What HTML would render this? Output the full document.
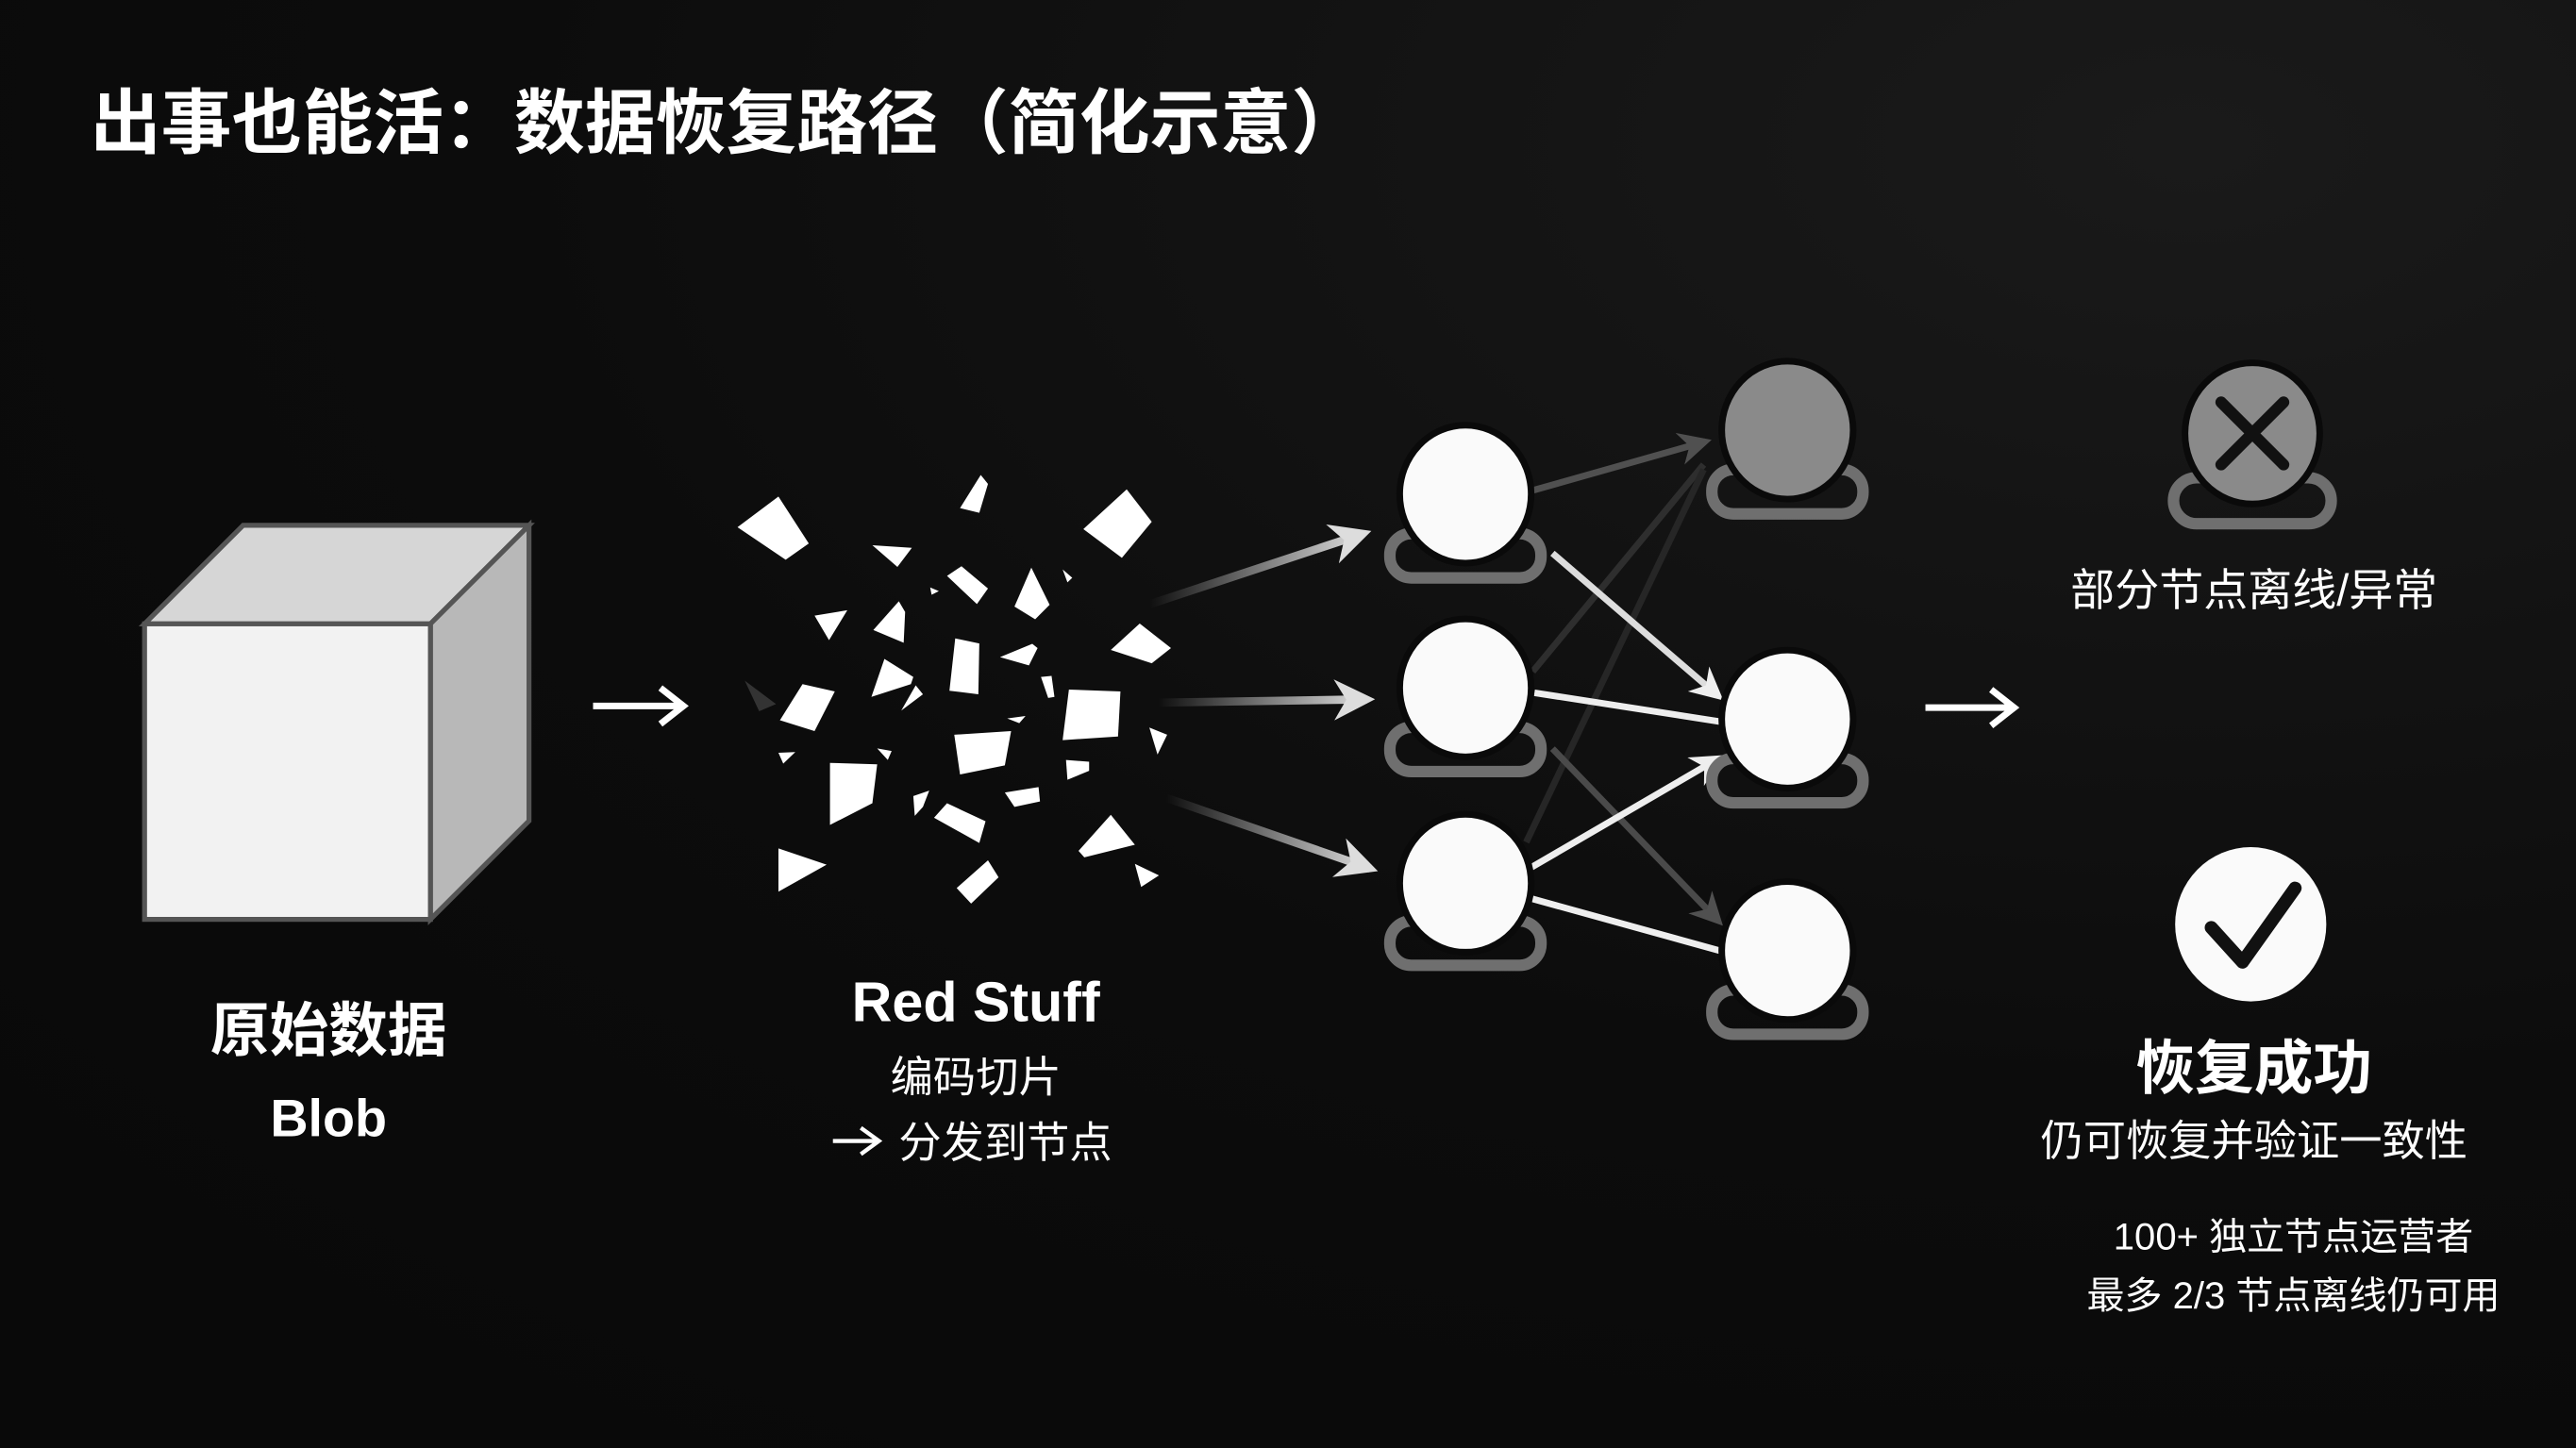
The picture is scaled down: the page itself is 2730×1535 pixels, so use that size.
<!DOCTYPE html>
<html><head><meta charset="utf-8"><style>
html,body{margin:0;padding:0;background:#0b0b0b;overflow:hidden}
svg{display:block}
text{font-family:"Liberation Sans","Noto Sans CJK SC",sans-serif;fill:#fff}
</style></head><body>
<svg width="2730" height="1535" viewBox="0 0 1568 882" preserveAspectRatio="none" xmlns="http://www.w3.org/2000/svg">
<defs>
<radialGradient id="bg" cx="0.85" cy="0.1" r="1.1">
<stop offset="0" stop-color="#1a1a1a"/><stop offset="0.6" stop-color="#0c0c0c"/><stop offset="1" stop-color="#090909"/>
</radialGradient>
<linearGradient id="g1" x1="0" x2="1"><stop offset="0" stop-color="#ddd" stop-opacity="0"/><stop offset="1" stop-color="#ddd"/></linearGradient>
<marker id="ah" viewBox="0 0 10 10" refX="8" refY="5" markerWidth="5" markerHeight="5" orient="auto"><path d="M0,0 L10,5 L0,10 L3,5z" fill="#ddd"/></marker>
<marker id="ahw" viewBox="0 0 10 10" refX="8" refY="5" markerWidth="5" markerHeight="5" orient="auto"><path d="M0,0 L10,5 L0,10 L3,5z" fill="#eee"/></marker>
<marker id="ahd" viewBox="0 0 10 10" refX="8" refY="5" markerWidth="5" markerHeight="5" orient="auto"><path d="M0,0 L10,5 L0,10 L3,5z" fill="#505050"/></marker>
</defs>
<rect width="1568" height="882" fill="url(#bg)"/>
<text x="55" y="90" font-size="43" font-weight="bold">出事也能活：数据恢复路径（简化示意）</text>

<!-- cube -->
<polygon points="88,380 148,320 322,320 262,380" fill="#d6d6d6" stroke="#555" stroke-width="3"/>
<polygon points="262,380 322,320 322,500 262,560" fill="#b8b8b8" stroke="#555" stroke-width="3"/>
<rect x="88" y="380" width="174" height="180" fill="#f2f2f2" stroke="#555" stroke-width="3"/>
<text x="200" y="640" font-size="36" font-weight="bold" text-anchor="middle">原始数据</text>
<text x="200" y="692" font-size="32" font-weight="bold" text-anchor="middle">Blob</text>

<!-- arrow -->
<path d="M361,430 H414 M402,419 L416,430 L402,441" stroke="#fff" stroke-width="4" fill="none"/>

<!-- fragments -->
<g transform="translate(402,258.5) scale(0.2932,0.2198)" fill="#fff">
<polygon points="175,710 240,775 205,795" fill="#333"/>
<polygon points="160,285 245,200 308,330 260,375"/>
<polygon points="622,232 665,140 680,165 662,245"/>
<polygon points="878,290 968,180 1020,270 958,370"/>
<polygon points="440,335 522,342 492,395"/>
<polygon points="595,420 625,393 680,455 657,498"/>
<polygon points="735,505 770,397 808,500 778,540"/>
<polygon points="835,402 855,425 845,438"/>
<polygon points="560,452 578,462 563,472"/>
<polygon points="320,530 388,515 350,598"/>
<polygon points="442,570 495,490 508,520 505,605"/>
<polygon points="935,625 995,552 1060,620 1020,662"/>
<polygon points="612,593 662,607 660,748 600,738"/>
<polygon points="705,645 772,608 783,620 765,668"/>
<polygon points="438,755 465,650 525,700 520,720"/>
<polygon points="500,793 530,723 545,748"/>
<polygon points="248,820 295,720 362,740 320,850"/>
<polygon points="790,700 812,697 818,755 805,758"/>
<polygon points="835,875 848,735 955,740 950,865"/>
<polygon points="720,815 758,808 745,828"/>
<polygon points="1015,840 1052,860 1032,915"/>
<polygon points="610,860 728,850 715,945 622,970"/>
<polygon points="245,910 280,908 255,940"/>
<polygon points="450,898 480,905 472,930"/>
<polygon points="352,938 450,942 440,1050 352,1110"/>
<polygon points="842,930 890,935 890,960 845,985"/>
<polygon points="525,1030 558,1015 545,1060 528,1085"/>
<polygon points="568,1090 595,1050 675,1100 662,1160"/>
<polygon points="715,1020 785,1005 788,1045 735,1060"/>
<polygon points="868,1182 935,1082 985,1165 880,1200"/>
<polygon points="245,1175 345,1220 245,1295"/>
<polygon points="985,1218 1035,1250 998,1282"/>
<polygon points="615,1285 680,1208 702,1255 645,1328"/>
</g>

<!-- fragment arrows -->
<g fill="none" stroke-width="5">
<line x1="700" y1="368" x2="830" y2="325" stroke="url(#g1)" marker-end="url(#ah)"/>
<line x1="705" y1="428" x2="832" y2="426" stroke="url(#g1)" marker-end="url(#ah)"/>
<line x1="710" y1="486" x2="834" y2="529" stroke="url(#g1)" marker-end="url(#ah)"/>
</g>

<!-- connectors -->
<g fill="none" stroke-width="4">
<line x1="933" y1="409" x2="1037" y2="283" stroke="#2e2e2e"/>
<line x1="929" y1="513" x2="1037" y2="286" stroke="#262626"/>
<line x1="932" y1="299" x2="1038" y2="269" stroke="#505050" marker-end="url(#ahd)"/>
<line x1="945" y1="456" x2="1046" y2="561" stroke="#4a4a4a" marker-end="url(#ahd)"/>
<line x1="945" y1="337" x2="1046" y2="424" stroke="#ddd" marker-end="url(#ahw)"/>
<line x1="934" y1="422" x2="1050" y2="440" stroke="#eee"/>
<line x1="931" y1="529" x2="1046" y2="462" stroke="#eee" marker-end="url(#ahw)"/>
<line x1="931" y1="547" x2="1050" y2="580" stroke="#eee"/>
</g>

<!-- nodes -->
<g>
<rect x="846" y="325" width="92" height="27" rx="13" fill="none" stroke="#6f6f6f" stroke-width="7"/>
<ellipse cx="892" cy="301" rx="40" ry="42" fill="#fafafa" stroke="#0a0a0a" stroke-width="4"/>
<rect x="846" y="443" width="92" height="27" rx="13" fill="none" stroke="#6f6f6f" stroke-width="7"/>
<ellipse cx="892" cy="419" rx="40" ry="42" fill="#fafafa" stroke="#0a0a0a" stroke-width="4"/>
<rect x="846" y="561" width="92" height="27" rx="13" fill="none" stroke="#6f6f6f" stroke-width="7"/>
<ellipse cx="892" cy="538" rx="40" ry="42" fill="#fafafa" stroke="#0a0a0a" stroke-width="4"/>

<rect x="1042" y="286" width="92" height="27" rx="13" fill="none" stroke="#6f6f6f" stroke-width="7"/>
<ellipse cx="1088" cy="262" rx="40" ry="42" fill="#8a8a8a" stroke="#0a0a0a" stroke-width="4"/>
<rect x="1042" y="462" width="92" height="27" rx="13" fill="none" stroke="#6f6f6f" stroke-width="7"/>
<ellipse cx="1088" cy="438" rx="40" ry="42" fill="#fafafa" stroke="#0a0a0a" stroke-width="4"/>
<rect x="1042" y="603" width="92" height="27" rx="13" fill="none" stroke="#6f6f6f" stroke-width="7"/>
<ellipse cx="1088" cy="579" rx="40" ry="42" fill="#fafafa" stroke="#0a0a0a" stroke-width="4"/>
</g>

<!-- right arrow -->
<path d="M1172,431 H1224 M1212,420 L1226,431 L1212,442" stroke="#fff" stroke-width="4" fill="none"/>

<!-- X node -->
<rect x="1323" y="291" width="96" height="28" rx="14" fill="none" stroke="#6f6f6f" stroke-width="7"/>
<ellipse cx="1371" cy="264" rx="41" ry="43" fill="#8a8a8a" stroke="#0a0a0a" stroke-width="4"/>
<path d="M1352,245 L1390,283 M1390,245 L1352,283" stroke="#111" stroke-width="7" stroke-linecap="round"/>
<text x="1372" y="369" font-size="27" text-anchor="middle">部分节点离线/异常</text>

<!-- check -->
<ellipse cx="1370" cy="563" rx="46" ry="47" fill="#fafafa"/>
<path d="M1346,565 L1365,586 L1397,541" stroke="#111" stroke-width="8" fill="none" stroke-linecap="round" stroke-linejoin="round"/>
<text x="1372" y="663" font-size="36" font-weight="bold" text-anchor="middle">恢复成功</text>
<text x="1372" y="704" font-size="26" text-anchor="middle">仍可恢复并验证一致性</text>
<text x="1396" y="761" font-size="23" text-anchor="middle">100+ 独立节点运营者</text>
<text x="1396" y="797" font-size="23" text-anchor="middle">最多 2/3 节点离线仍可用</text>

<text x="594" y="622" font-size="34" font-weight="bold" text-anchor="middle">Red Stuff</text>
<text x="594" y="665" font-size="26" text-anchor="middle">编码切片</text>
<path d="M507,695 H533 M524,687 L535,695 L524,703" stroke="#fff" stroke-width="2.5" fill="none"/>
<text x="547" y="705" font-size="26">分发到节点</text>
</svg>
</body></html>
